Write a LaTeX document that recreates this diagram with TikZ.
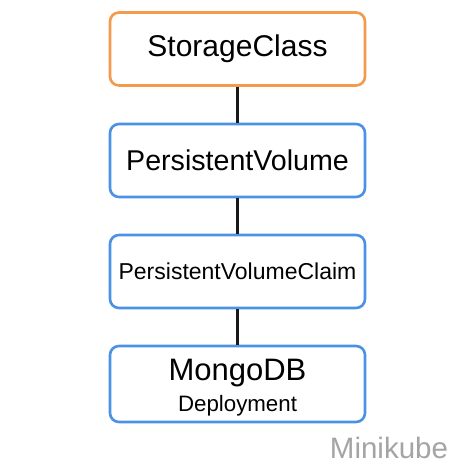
\documentclass[tikz,border=0pt]{standalone}
\usepackage{fontspec}
\setmainfont{Liberation Sans}
\usetikzlibrary{positioning}

\definecolor{classorange}{HTML}{F39A4C}
\definecolor{kubeblue}{HTML}{4A92E6}
\definecolor{tagGray}{HTML}{A4A4A4}

\begin{document}
\begin{tikzpicture}[x=1pt,y=-1pt,
    res/.style={draw=kubeblue,line width=2.6pt,rounded corners=9pt,fill=white,
      minimum width=255pt,minimum height=73pt,inner sep=0pt},
    link/.style={line width=2.2pt,black!90}]
      \useasboundingbox[fill=white] (0,0) rectangle (474,474);
      % the resource chain
      \node[res,draw=classorange] (sc) at (237.5,49) {\fontsize{30}{34}\selectfont StorageClass};
      \node[res] (pv) at (237.5,160.5) {\fontsize{28.6}{33}\selectfont PersistentVolume};
      \node[res] (pvc) at (237.5,271.5) {\fontsize{23}{28}\selectfont PersistentVolumeClaim};
      \node[res,minimum height=76pt] (db) at (237.5,384) {};
      \node (dbname) at (237.5,373) {\fontsize{31}{36}\selectfont MongoDB};
      \node (dbkind) at (237.5,406) {\fontsize{22.3}{26}\selectfont Deployment};
      \draw[link] (sc) -- (pv);
      \draw[link] (pv) -- (pvc);
      \draw[link] (pvc) -- (db);
      \node[text=tagGray] (env) at (389,448) {\fontsize{29.5}{34}\selectfont Minikube};
    \end{tikzpicture}
\end{document}
